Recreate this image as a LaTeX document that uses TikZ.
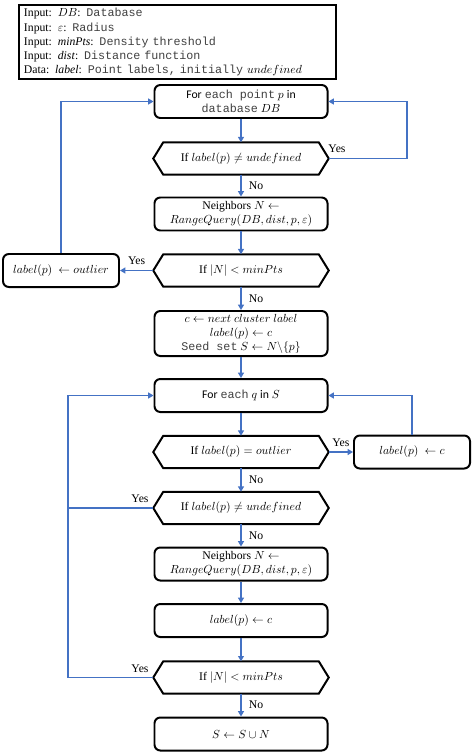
\documentclass[tikz,border=0pt]{standalone}
\usepackage{amsmath,amssymb}
\usepackage{fontspec}
\setmainfont{Liberation Serif}
\setmonofont{Liberation Mono}
\newfontfamily\calfont{Carlito}
\usepackage{xcolor}
\usepackage{tikz}
\usetikzlibrary{arrows.meta,calc}
\definecolor{flowblue}{HTML}{4472C4}
\definecolor{monogrey}{HTML}{404040}
\newcommand{\mono}[1]{{\ttfamily\color{monogrey}#1}}
\tikzset{
  stepbox/.style={draw=black, line width=1.7pt, rounded corners=5pt, minimum width=5.19cm, minimum height=0.99cm, align=center, inner sep=1pt},
  sidebox/.style={stepbox, minimum width=3.48cm},
  dec/.style={minimum width=5.25cm, minimum height=0.96cm, align=center, inner sep=1pt},
  hexline/.style={draw=black, line width=1.7pt, line join=miter},
  flow/.style={draw=flowblue, line width=1.5pt, -{Triangle[length=4.5pt,width=5pt]}},
  flowline/.style={draw=flowblue, line width=1.5pt},
  yn/.style={inner sep=0pt}
}

\begin{document}
\begin{tikzpicture}[x=0.03cm,y=-0.03cm]
\useasboundingbox (0,0) rectangle (474,756);

% inputs
\node[draw=black, line width=1.7pt, anchor=north west, align=left, text width=9.2cm, inner xsep=0.15cm, inner ysep=3pt] (inp) at (18,4)
  {Input: $DB$: \mono{Database}\\
   Input: $\varepsilon$: \mono{Radius}\\
   Input: \textit{minPts}: \mono{Density threshold}\\
   Input: \textit{dist}: \mono{Distance function}\\
   Data: \textit{label}: \mono{Point labels, initially} $undefined$};

% outer loop
\node[stepbox] (pt) at (241,101.5) {{\calfont For} \mono{each point} $p$ {\calfont in}\\ \mono{database} $DB$};
\node[dec] (d1) at (241,158.5) {If $label(p) \neq undefined$};
\node[stepbox] (nb1) at (241,214) {Neighbors $N \leftarrow$\\ $RangeQuery(DB, dist, p, \varepsilon)$};
\node[dec] (d2) at (241,270.5) {If $|N| < minPts$};
\node[sidebox] (outl) at (61,270.5) {$label(p)\ \leftarrow outlier$};
\node[stepbox, minimum height=1.35cm] (newc) at (241,333.5) {$c \leftarrow next\ cluster\ label$\\ $label(p) \leftarrow c$\\ \mono{Seed set} $S \leftarrow N\backslash\{p\}$};

% inner loop
\node[stepbox] (q) at (241,395.5) {{\calfont For} \mono{each} $q$ {\calfont in} $S$};
\node[dec] (d3) at (241,452) {If $label(p) = outlier$};
\node[sidebox] (relab) at (412,452) {$label(p)\ \leftarrow c$};
\node[dec] (d4) at (241,508) {If $label(p) \neq undefined$};
\node[stepbox] (nb2) at (241,564) {Neighbors $N \leftarrow$\\ $RangeQuery(DB, dist, p, \varepsilon)$};
\node[stepbox] (lab) at (241,620.5) {$label(p) \leftarrow c$};
\node[dec] (d5) at (241,677.5) {If $|N| < minPts$};
\node[stepbox] (grow) at (241,734) {$S \leftarrow S \cup N$};

\foreach \d in {d1,d2,d3,d4,d5}
  \draw[hexline] (\d.west) -- ([xshift=0.3cm]\d.north west) -- ([xshift=-0.3cm]\d.north east)
    -- (\d.east) -- ([xshift=-0.3cm]\d.south east) -- ([xshift=0.3cm]\d.south west) -- cycle;

\coordinate (rx) at (407,0);
\coordinate (lx) at (68,0);

\draw[flow] (pt) -- (d1);
\draw[flow] (d1) -- node[yn, right=6pt] {No} (nb1);
\draw[flow] (d1.east) -- (d1.east -| rx) |- (pt.east);
\node[yn] at (337,149) {Yes};
\draw[flow] (nb1) -- (d2);
\draw[flow] (d2.west) -- node[yn, above=4pt] {Yes} (outl.east);
\draw[flow] (outl.north) |- (pt.west);
\draw[flow] (d2) -- node[yn, right=6pt] {No} (newc);
\draw[flow] (newc) -- (q);
\draw[flow] (q) -- (d3);
\draw[flow] (d3.east) -- node[yn, above=4pt] {Yes} (relab.west);
\draw[flow] (relab.north) |- (q.east);
\draw[flow] (d3) -- node[yn, right=6pt] {No} (d4);
\draw[flowline] (d4.west) -- (d4.west -| lx);
\node[yn] at (140,499) {Yes};
\draw[flow] (d4) -- node[yn, right=6pt] {No} (nb2);
\draw[flow] (nb2) -- (lab);
\draw[flow] (lab) -- (d5);
\draw[flow] (d5.west) -- (d5.west -| lx) |- (q.west);
\node[yn] at (140,669) {Yes};
\draw[flow] (d5) -- node[yn, right=6pt] {No} (grow);
\end{tikzpicture}
\end{document}
